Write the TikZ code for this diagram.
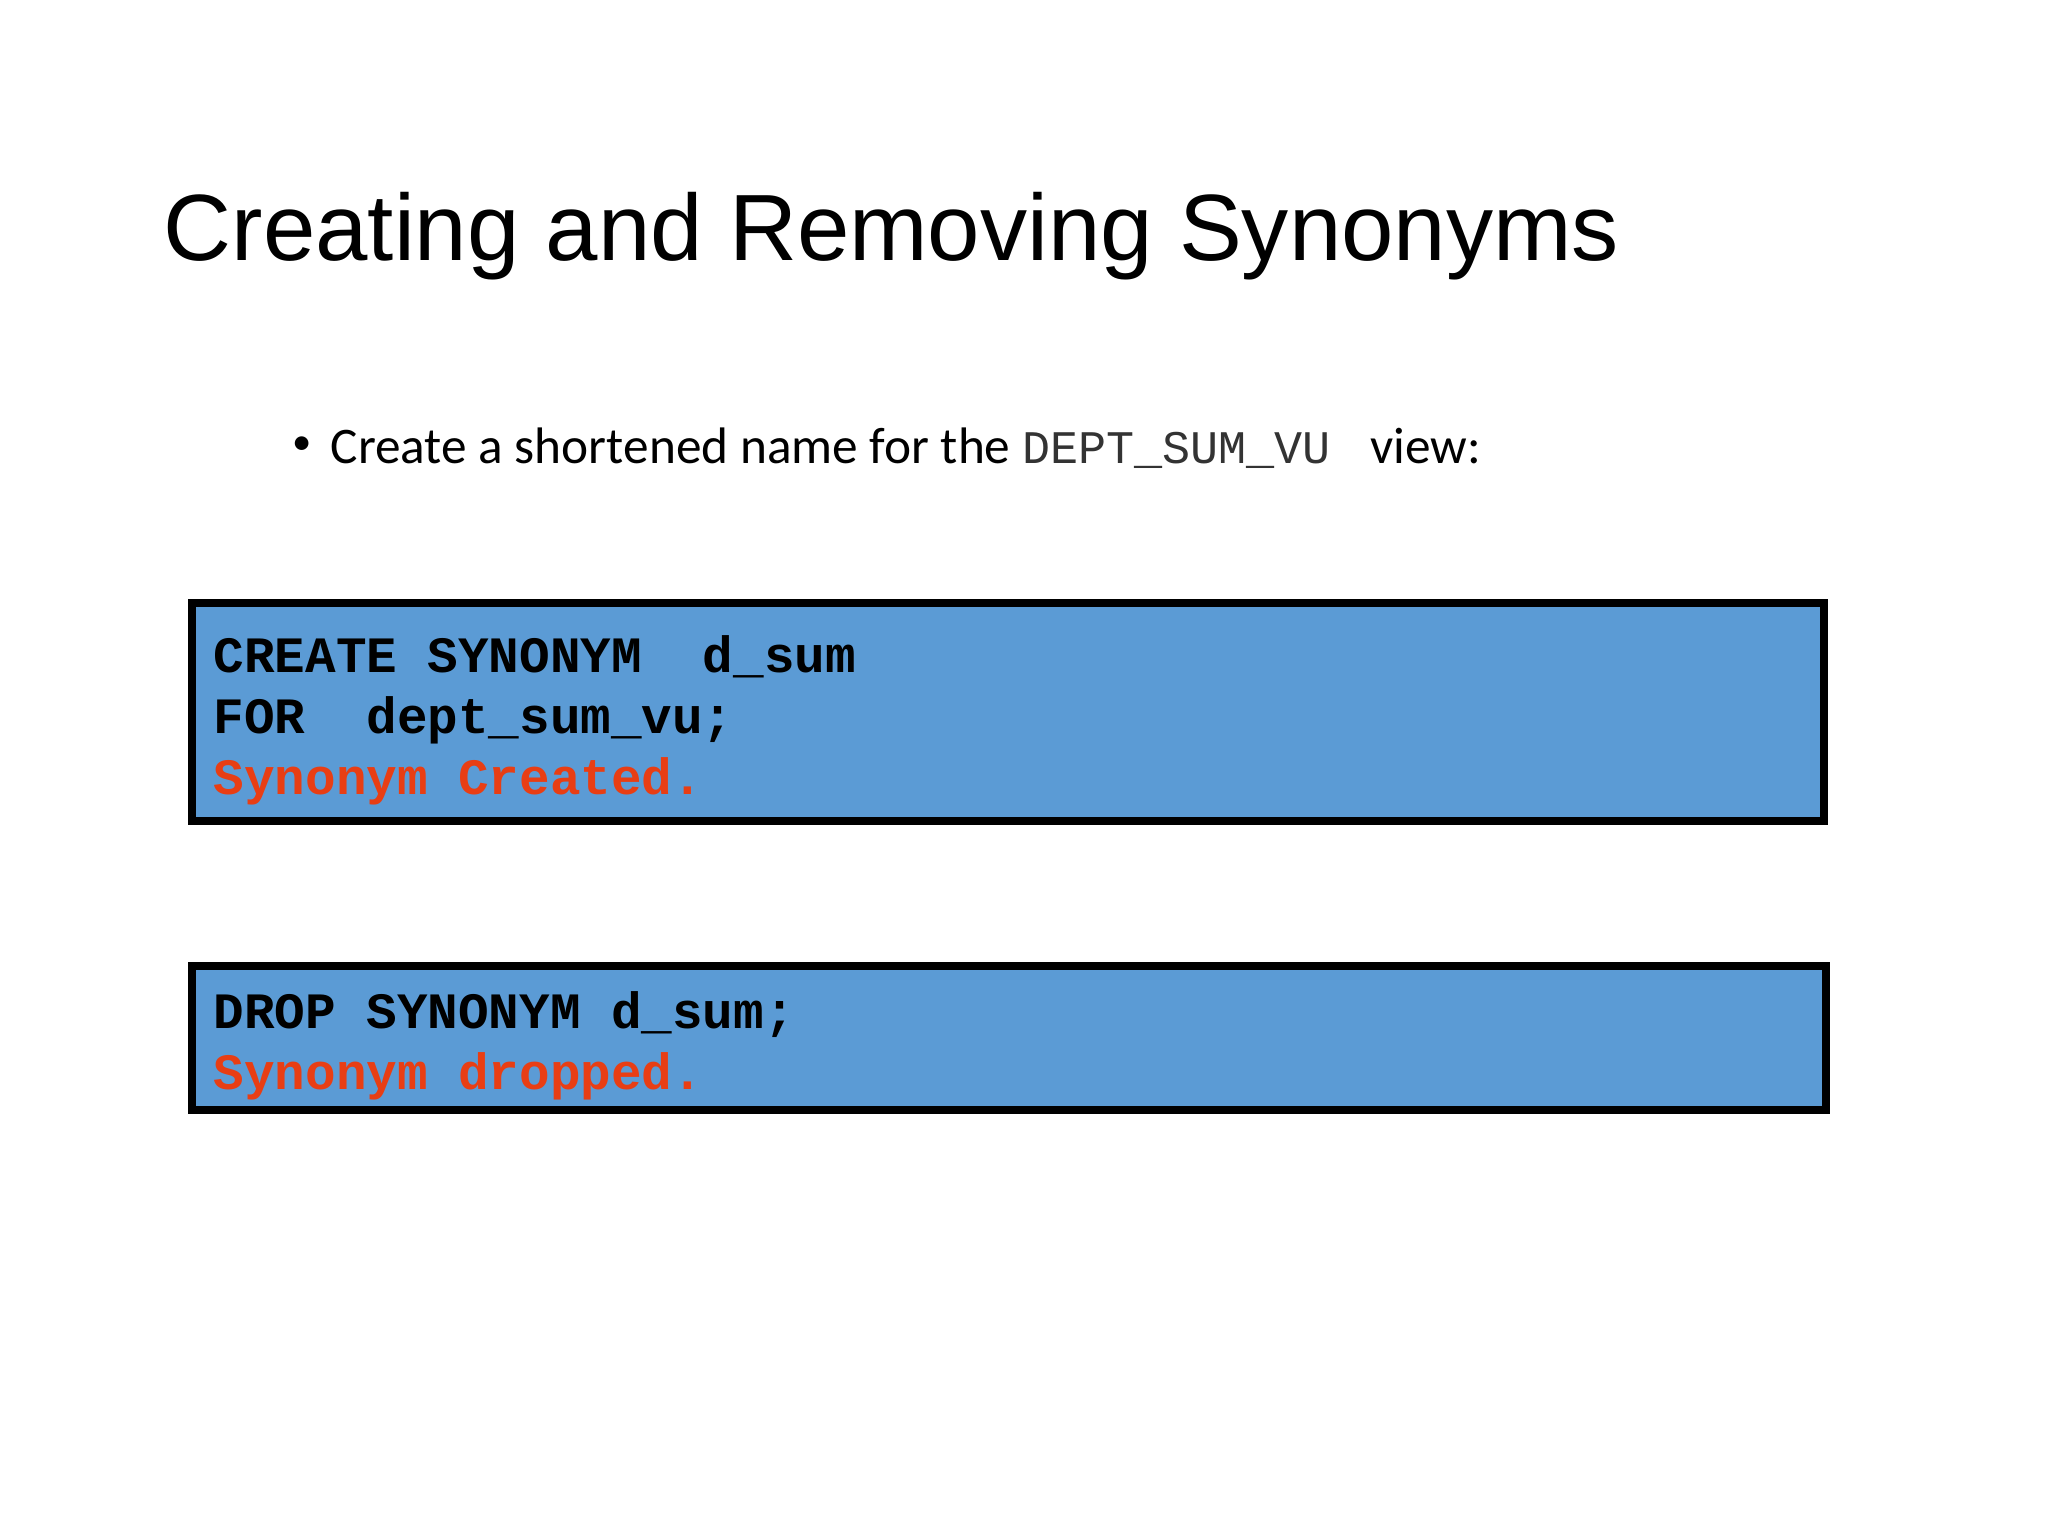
\documentclass[tikz,border=0pt]{standalone}
\usepackage{fontspec}
\setmainfont{Liberation Sans}
\newfontfamily\bodyfont{Carlito}
\setmonofont{Liberation Mono}
\usetikzlibrary{positioning, calc}
\definecolor{codeblue}{RGB}{91,155,213}
\definecolor{msgred}{RGB}{232,62,20}
\tikzset{
  codebox/.style={draw=black, line width=2.2pt, fill=codeblue},
  codeline/.style={anchor=base west, inner sep=0, font=\fontsize{14.5}{17}\selectfont\ttfamily\bfseries},
}
\begin{document}
\begin{tikzpicture}
      \useasboundingbox (0,0) rectangle (20.48,-15.36);
      % title and bullet
      \node[anchor=base west, inner sep=0, font=\fontsize{26.8}{32}\selectfont] (title) at (1.63,-2.61) {Creating and Removing Synonyms};
      \node[anchor=base west, inner sep=0, font=\bodyfont\fontsize{11}{14}\selectfont] (dot) at (2.92,-4.55) {•};
      \node[anchor=base west, inner sep=0, font=\bodyfont\fontsize{14.6}{18}\selectfont] (bullet) at (3.30,-4.64)
        {Create a shortened name for the {\ttfamily\fontsize{13.3}{16}\selectfont\color{black!80}DEPT\_SUM\_VU\ } view:};
      % boxes
      \draw[codebox] (1.92,-6.03) rectangle (18.24,-8.21);
      \draw[codebox] (1.92,-9.66) rectangle (18.26,-11.10);
      \node[codeline] (c1) at (2.13,-6.73) {CREATE SYNONYM\ \ d\_sum};
      \node[codeline] (c2) at (2.13,-7.34) {FOR\ \ dept\_sum\_vu;};
      \node[codeline, msgred] (c3) at (2.13,-7.95) {Synonym Created.};
      \node[codeline] (d1) at (2.13,-10.28) {DROP SYNONYM d\_sum;};
      \node[codeline, msgred] (d2) at (2.13,-10.89) {Synonym dropped.};
\end{tikzpicture}
\end{document}
